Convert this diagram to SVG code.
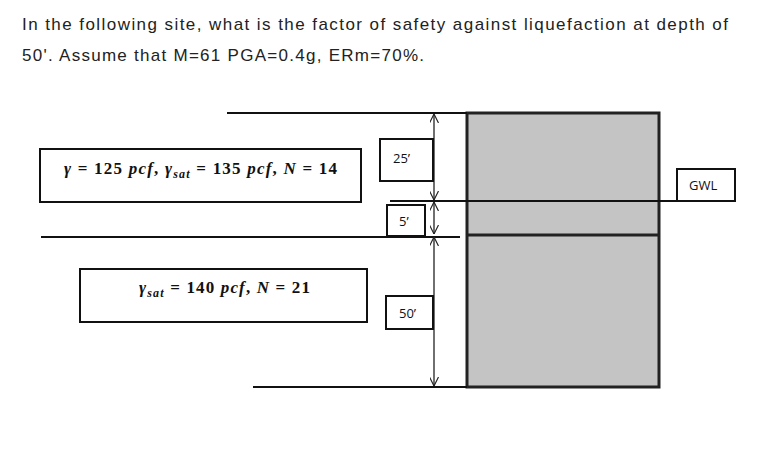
<svg xmlns="http://www.w3.org/2000/svg" width="766" height="455" viewBox="0 0 766 455">
<style>
.q{font-family:"Liberation Sans",sans-serif;font-size:17px;fill:#222}
.m{font-family:"Liberation Serif",serif;font-size:17px;font-weight:bold;fill:#111}
.i{font-style:italic}
.l{font-family:"Open Sans","Liberation Sans",sans-serif;font-size:13px;fill:#111}
.bx{fill:#fff;stroke:#111;stroke-width:2}
.ln{stroke:#111;stroke-width:2;fill:none}
.dm{stroke:#222;stroke-width:1.3;fill:none}
</style>
<defs>
<marker id="a" viewBox="0 0 10 10" refX="10" refY="5" markerWidth="9" markerHeight="9" orient="auto-start-reverse" markerUnits="userSpaceOnUse"><path d="M0,0 L10,5 L0,10" fill="none" stroke="#222" stroke-width="1.3"/></marker>
</defs>
<rect width="766" height="455" fill="#fff"/>
<text class="q" x="22" y="30" textLength="706">In the following site, what is the factor of safety against liquefaction at depth of</text>
<text class="q" x="22" y="61" textLength="402">50'. Assume that M=61 PGA=0.4g, ERm=70%.</text>
<g id="soil">
<rect x="467" y="113" width="192" height="274" fill="#c4c4c4" stroke="#222" stroke-width="3"/>
<line x1="467" y1="235" x2="659" y2="235" stroke="#222" stroke-width="3"/>
</g>
<g id="levels">
<line class="ln" x1="227" y1="113" x2="467" y2="113" stroke-width="1.5"/>
<line class="ln" x1="390" y1="201" x2="677" y2="201"/>
<line class="ln" x1="41" y1="237" x2="460" y2="237" stroke-width="1.5"/>
<line class="ln" x1="253" y1="387" x2="467" y2="387"/>
</g>
<g id="connectors">
<line class="dm" x1="434" y1="114" x2="434" y2="200" marker-start="url(#a)" marker-end="url(#a)"/>
<line class="dm" x1="434" y1="202" x2="434" y2="234" marker-start="url(#a)" marker-end="url(#a)"/>
<line class="dm" x1="434" y1="237" x2="434" y2="386" marker-start="url(#a)" marker-end="url(#a)"/>
</g>
<g id="layer1"><rect class="bx" x="40" y="149" width="321" height="53"/>
<text class="m" x="64" y="174" textLength="273"><tspan class="i">γ</tspan> = 125 <tspan class="i">pcf</tspan>, <tspan class="i">γ</tspan><tspan class="i" font-size="12" dy="4">sat</tspan><tspan dy="-4"> = 135 </tspan><tspan class="i">pcf</tspan>, <tspan class="i">N</tspan> = 14</text></g>
<g id="layer2"><rect class="bx" x="80" y="269" width="287" height="53"/>
<text class="m" x="139" y="293" textLength="171"><tspan class="i">γ</tspan><tspan class="i" font-size="12" dy="4">sat</tspan><tspan dy="-4"> = 140 </tspan><tspan class="i">pcf</tspan>, <tspan class="i">N</tspan> = 21</text></g>
<g id="d25"><rect class="bx" x="380" y="139" width="53" height="42" stroke-width="1.5"/><text class="l" x="393" y="163">25’</text></g>
<g id="d5"><rect class="bx" x="387" y="205" width="38" height="31" stroke-width="1.5"/><text class="l" x="399" y="226">5’</text></g>
<g id="d50"><rect class="bx" x="386" y="296" width="47" height="33" stroke-width="1.5"/><text class="l" x="399" y="318">50’</text></g>
<g id="gwl"><rect class="bx" x="677" y="169" width="58" height="32" stroke-width="1.5"/><text class="l" x="689" y="190">GWL</text></g>
</svg>
